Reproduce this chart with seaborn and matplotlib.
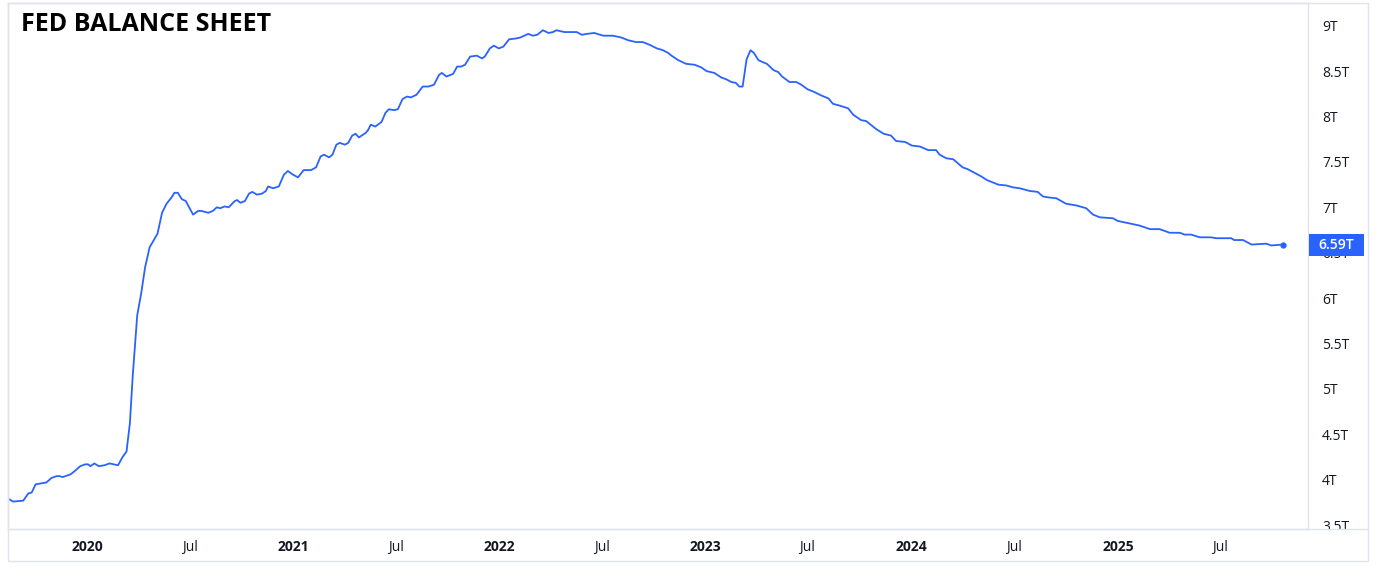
import pandas as pd
import matplotlib
matplotlib.use("Agg")
import matplotlib.pyplot as plt
import matplotlib.dates as mdates
import matplotlib.transforms as mtransforms
from matplotlib.patches import Rectangle
import seaborn as sns

# Weekly Fed balance sheet (trillions USD)
dates = [
    "2019-08-15", "2019-08-23", "2019-09-10", "2019-09-19", "2019-09-25", "2019-10-02", "2019-10-12", "2019-10-21",
    "2019-10-30", "2019-11-08", "2019-11-13", "2019-11-19", "2019-12-03", "2019-12-11", "2019-12-20", "2019-12-29",
    "2020-01-03", "2020-01-07", "2020-01-14", "2020-01-22", "2020-02-01", "2020-02-10", "2020-02-25", "2020-03-04",
    "2020-03-11", "2020-03-17", "2020-03-22", "2020-03-30", "2020-04-06", "2020-04-13", "2020-04-21", "2020-05-05",
    "2020-05-13", "2020-05-21", "2020-05-30", "2020-06-04", "2020-06-10", "2020-06-17", "2020-06-24", "2020-06-30",
    "2020-07-07", "2020-07-16", "2020-07-22", "2020-08-03", "2020-08-11", "2020-08-18", "2020-08-24", "2020-09-01",
    "2020-09-08", "2020-09-19", "2020-09-23", "2020-09-29", "2020-10-07", "2020-10-14", "2020-10-20", "2020-10-28",
    "2020-11-06", "2020-11-13", "2020-11-17", "2020-11-26", "2020-12-06", "2020-12-15", "2020-12-22", "2020-12-31",
    "2021-01-09", "2021-01-19", "2021-02-01", "2021-02-10", "2021-02-18", "2021-02-24", "2021-03-05", "2021-03-11",
    "2021-03-18", "2021-03-24", "2021-04-02", "2021-04-08", "2021-04-15", "2021-04-21", "2021-04-27", "2021-05-09",
    "2021-05-13", "2021-05-18", "2021-05-26", "2021-06-06", "2021-06-13", "2021-06-19", "2021-06-28", "2021-07-05",
    "2021-07-13", "2021-07-21", "2021-07-28", "2021-08-07", "2021-08-18", "2021-08-28", "2021-09-07", "2021-09-16",
    "2021-09-21", "2021-09-29", "2021-10-11", "2021-10-18", "2021-10-25", "2021-11-01", "2021-11-10", "2021-11-22",
    "2021-12-01", "2021-12-06", "2021-12-15", "2021-12-22", "2021-12-31", "2022-01-08", "2022-01-18", "2022-01-31",
    "2022-02-07", "2022-02-21", "2022-03-01", "2022-03-09", "2022-03-19", "2022-03-29", "2022-04-06", "2022-04-12",
    "2022-04-26", "2022-05-18", "2022-05-27", "2022-06-05", "2022-06-18", "2022-07-04", "2022-07-21", "2022-08-05",
    "2022-08-17", "2022-08-31", "2022-09-12", "2022-09-24", "2022-10-07", "2022-10-18", "2022-10-27", "2022-11-02",
    "2022-11-14", "2022-11-28", "2022-12-13", "2022-12-25", "2023-01-03", "2023-01-17", "2023-01-29", "2023-02-07",
    "2023-02-16", "2023-02-24", "2023-03-02", "2023-03-08", "2023-03-15", "2023-03-22", "2023-03-28", "2023-04-05",
    "2023-04-20", "2023-05-02", "2023-05-10", "2023-05-17", "2023-05-30", "2023-06-11", "2023-06-20", "2023-07-01",
    "2023-07-13", "2023-07-26", "2023-08-07", "2023-08-15", "2023-08-27", "2023-09-11", "2023-09-20", "2023-10-04",
    "2023-10-13", "2023-10-31", "2023-11-13", "2023-11-26", "2023-12-05", "2023-12-21", "2024-01-02", "2024-01-16",
    "2024-01-31", "2024-02-14", "2024-02-20", "2024-03-03", "2024-03-15", "2024-04-01", "2024-04-10", "2024-04-19",
    "2024-05-04", "2024-05-14", "2024-06-03", "2024-06-18", "2024-06-29", "2024-07-11", "2024-07-29", "2024-08-12",
    "2024-08-21", "2024-08-30", "2024-09-14", "2024-10-01", "2024-10-20", "2024-11-06", "2024-11-18", "2024-11-30",
    "2024-12-23", "2025-01-01", "2025-01-16", "2025-02-08", "2025-02-27", "2025-03-16", "2025-04-03", "2025-04-21",
    "2025-04-29", "2025-05-11", "2025-05-26", "2025-06-15", "2025-06-24", "2025-07-21", "2025-07-26", "2025-08-11",
    "2025-08-26", "2025-09-21", "2025-09-30", "2025-10-20",
]
values = [
    3.79, 3.76, 3.77, 3.85, 3.86, 3.95, 3.96, 3.97,
    4.02, 4.04, 4.04, 4.03, 4.06, 4.10, 4.15, 4.17,
    4.17, 4.15, 4.18, 4.15, 4.16, 4.18, 4.16, 4.25,
    4.31, 4.62, 5.14, 5.81, 6.05, 6.34, 6.56, 6.71,
    6.94, 7.04, 7.11, 7.16, 7.16, 7.09, 7.07, 7.00,
    6.92, 6.96, 6.96, 6.94, 6.96, 7.00, 6.99, 7.01,
    7.00, 7.07, 7.08, 7.05, 7.07, 7.15, 7.17, 7.14,
    7.15, 7.18, 7.23, 7.21, 7.23, 7.36, 7.40, 7.36,
    7.33, 7.41, 7.41, 7.44, 7.56, 7.58, 7.55, 7.58,
    7.69, 7.71, 7.69, 7.71, 7.79, 7.81, 7.77, 7.82,
    7.85, 7.91, 7.89, 7.94, 8.04, 8.08, 8.07, 8.08,
    8.19, 8.22, 8.21, 8.24, 8.33, 8.33, 8.35, 8.46,
    8.48, 8.44, 8.47, 8.55, 8.55, 8.57, 8.66, 8.67,
    8.64, 8.66, 8.75, 8.78, 8.75, 8.77, 8.85, 8.86,
    8.87, 8.91, 8.89, 8.90, 8.95, 8.92, 8.93, 8.95,
    8.93, 8.93, 8.90, 8.91, 8.92, 8.89, 8.89, 8.87,
    8.84, 8.82, 8.82, 8.79, 8.75, 8.73, 8.70, 8.67,
    8.62, 8.58, 8.57, 8.54, 8.50, 8.48, 8.43, 8.41,
    8.38, 8.37, 8.33, 8.33, 8.63, 8.73, 8.70, 8.62,
    8.58, 8.51, 8.49, 8.44, 8.38, 8.38, 8.35, 8.30,
    8.27, 8.23, 8.20, 8.14, 8.12, 8.09, 8.02, 7.96,
    7.95, 7.86, 7.81, 7.79, 7.73, 7.72, 7.68, 7.67,
    7.63, 7.63, 7.58, 7.54, 7.53, 7.44, 7.42, 7.39,
    7.34, 7.30, 7.25, 7.24, 7.22, 7.21, 7.18, 7.17,
    7.12, 7.11, 7.10, 7.04, 7.02, 6.99, 6.92, 6.89,
    6.88, 6.85, 6.83, 6.80, 6.76, 6.76, 6.72, 6.72,
    6.70, 6.70, 6.67, 6.67, 6.66, 6.66, 6.64, 6.64,
    6.59, 6.60, 6.58, 6.59,
]
y_ticks = [3.5, 4, 4.5, 5, 5.5, 6, 6.5, 7, 7.5, 8, 8.5, 9]
y_tick_labels = ["3.5T", "4T", "4.5T", "5T", "5.5T", "6T", "6.5T", "7T", "7.5T", "8T", "8.5T", "9T"]
last_label = "6.59T"

df = pd.DataFrame({"date": pd.to_datetime(dates), "value": values})

sns.set_style("white")
plt.rcParams["font.family"] = ["Open Sans", "DejaVu Sans"]

BLUE = "#2962FF"
BORDER = "#e0e3eb"
TEXT = "#131722"

W, H = 1376, 568
fig = plt.figure(figsize=(W / 100, H / 100), dpi=100)
fig.patch.set_facecolor("white")

# plot area in pixels: x 8..1308, y 3..529
ax = fig.add_axes([8 / W, (H - 529) / H, 1300 / W, 526 / H])

sns.lineplot(data=df, x="date", y="value", color=BLUE, linewidth=1.3, ax=ax)
ax.plot(df["date"].iloc[-1], df["value"].iloc[-1], "o", color=BLUE, markersize=3.5)

ax.set_xlim(pd.Timestamp("2019-08-14"), pd.Timestamp("2025-12-04"))
ax.set_ylim(3.458, 9.25)
ax.set_xlabel("")
ax.set_ylabel("")

# price axis on the right
ax.yaxis.tick_right()
ax.set_yticks(y_ticks)
ax.set_yticklabels(y_tick_labels)
ax.tick_params(axis="y", length=0, pad=10, labelsize=10, labelcolor=TEXT)

# time axis: years bold, July plain
ax.xaxis.set_major_locator(mdates.YearLocator())
ax.xaxis.set_major_formatter(mdates.DateFormatter("%Y"))
ax.xaxis.set_minor_locator(mdates.MonthLocator(bymonth=7))
ax.xaxis.set_minor_formatter(mdates.DateFormatter("%b"))
ax.tick_params(axis="x", which="both", length=0, pad=8, labelsize=10, labelcolor=TEXT)
for lbl in ax.get_xticklabels():
    lbl.set_fontweight("bold")

for s in ax.spines.values():
    s.set_color(BORDER)
    s.set_linewidth(1)

# the lowest price label is cut by the time-axis strip in the original
clip = mtransforms.TransformedBbox(
    mtransforms.Bbox([[0, (H - 529) / H], [1, 1]]), fig.transFigure)
for lbl in ax.get_yticklabels():
    lbl.set_clip_box(clip)
    lbl.set_clip_on(True)

# outer frame and the bottom line running into the price-axis panel
fig.patches.append(Rectangle((8 / W, (H - 561) / H), 1360 / W, 558 / H,
                             transform=fig.transFigure, facecolor="none",
                             edgecolor=BORDER, linewidth=1, zorder=6))
fig.add_artist(plt.Line2D([8 / W, 1368 / W], [(H - 529) / H] * 2,
                          transform=fig.transFigure, color=BORDER, linewidth=1, zorder=6))

# last value tag on the price axis
trans = mtransforms.blended_transform_factory(ax.transAxes, ax.transData)
ax.add_patch(Rectangle((1 + 1 / 1300, values[-1] - 0.121), 55 / 1300, 0.242,
                       transform=trans, facecolor=BLUE, edgecolor="none",
                       clip_on=False, zorder=10))
ax.text(1 + 28.5 / 1300, values[-1], last_label, transform=trans, ha="center", va="center",
        color="white", fontsize=10, fontweight="semibold", zorder=11, clip_on=False)

fig.text(21 / W, (H - 12) / H, "FED BALANCE SHEET", ha="left", va="top",
         fontsize=18, fontweight="bold", color="black")

fig.savefig("out.png", dpi=100, facecolor="white")
